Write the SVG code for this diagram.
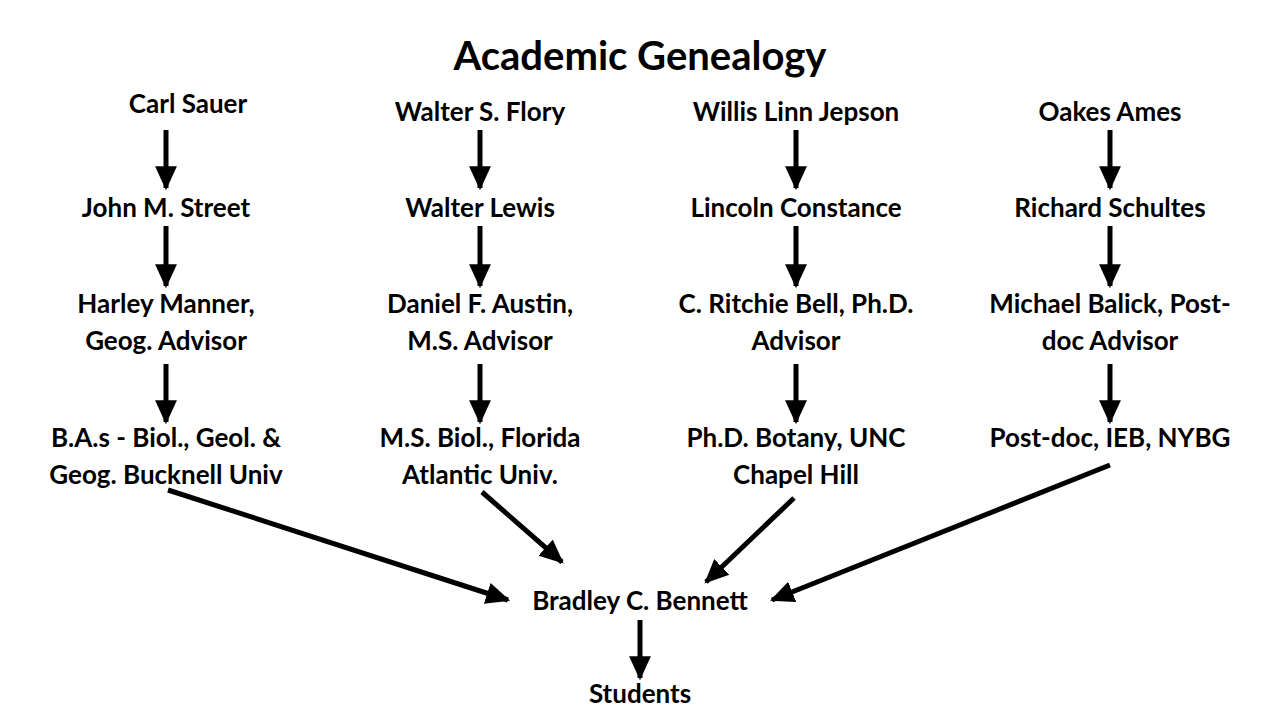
<svg xmlns="http://www.w3.org/2000/svg" width="1280" height="720" viewBox="0 0 1280 720">
<style>
text{font-family:Lato,"Open Sans","Liberation Sans",sans-serif;font-weight:bold;fill:#000;text-anchor:middle;font-size:26px}
.t{font-size:40px}
line{stroke:#000;stroke-width:5;marker-end:url(#a)}
</style>
<defs><marker id="a" markerUnits="userSpaceOnUse" markerWidth="24" markerHeight="24" refX="20" refY="10" orient="auto" viewBox="0 0 22 20"><path d="M0,0L22,10L0,20z"/></marker></defs>
<rect width="1280" height="720" fill="#fff"/>
<text class="t" x="640" y="70">Academic Genealogy</text>
<g id="c1"><text x="188" y="113">Carl Sauer</text></g>
<g id="c2"><text x="166" y="217">John M. Street</text></g>
<g id="c3"><text x="166" y="313">Harley Manner,</text><text x="166" y="350">Geog. Advisor</text></g>
<g id="c4"><text x="166" y="447">B.A.s - Biol., Geol. &amp;</text><text x="166" y="484">Geog. Bucknell Univ</text></g>
<g id="w1"><text x="480" y="121">Walter S. Flory</text></g>
<g id="w2"><text x="480" y="217">Walter Lewis</text></g>
<g id="w3"><text x="480" y="313">Daniel F. Austin,</text><text x="480" y="350">M.S. Advisor</text></g>
<g id="w4"><text x="480" y="447">M.S. Biol., Florida</text><text x="480" y="484">Atlantic Univ.</text></g>
<g id="j1"><text x="796" y="121">Willis Linn Jepson</text></g>
<g id="j2"><text x="796" y="217">Lincoln Constance</text></g>
<g id="j3"><text x="796" y="313">C. Ritchie Bell, Ph.D.</text><text x="796" y="350">Advisor</text></g>
<g id="j4"><text x="796" y="447">Ph.D. Botany, UNC</text><text x="796" y="484">Chapel Hill</text></g>
<g id="o1"><text x="1110" y="121">Oakes Ames</text></g>
<g id="o2"><text x="1110" y="217">Richard Schultes</text></g>
<g id="o3"><text x="1110" y="313">Michael Balick, Post-</text><text x="1110" y="350">doc Advisor</text></g>
<g id="o4"><text x="1110" y="447">Post-doc, IEB, NYBG</text></g>
<g id="b"><text x="640" y="610">Bradley C. Bennett</text></g>
<g id="s"><text x="640" y="703">Students</text></g>
<g id="connectors">
<line x1="166" y1="130" x2="166" y2="188"/><line x1="166" y1="226" x2="166" y2="286"/><line x1="166" y1="364" x2="166" y2="422"/>
<line x1="480" y1="130" x2="480" y2="188"/><line x1="480" y1="226" x2="480" y2="286"/><line x1="480" y1="364" x2="480" y2="422"/>
<line x1="796" y1="130" x2="796" y2="188"/><line x1="796" y1="226" x2="796" y2="286"/><line x1="796" y1="364" x2="796" y2="422"/>
<line x1="1110" y1="130" x2="1110" y2="188"/><line x1="1110" y1="226" x2="1110" y2="286"/><line x1="1110" y1="364" x2="1110" y2="422"/>
<line x1="168" y1="490" x2="508" y2="600"/>
<line x1="482" y1="492" x2="562" y2="562"/>
<line x1="794" y1="498" x2="706" y2="582"/>
<line x1="1110" y1="465" x2="772" y2="600"/>
<line x1="640" y1="620" x2="640" y2="678"/>
</g>
</svg>
